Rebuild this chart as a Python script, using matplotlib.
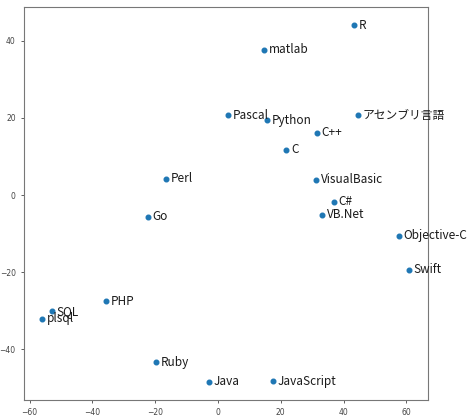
import matplotlib
matplotlib.use('Agg')
import matplotlib.pyplot as plt

plt.rcParams['font.family'] = ['Noto Sans CJK JP', 'DejaVu Sans']

labels = ['R', 'matlab', 'Pascal', 'Python', 'アセンブリ言語', 'C++', 'C', 'Perl',
          'VisualBasic', 'C#', 'VB.Net', 'Go', 'Objective-C', 'Swift', 'PHP',
          'SQL', 'plsql', 'Ruby', 'Java', 'JavaScript']
x_values = [43.3, 14.6, 3.3, 15.6, 44.6, 31.5, 21.7, -16.6,
            31.2, 36.9, 33.1, -22.3, 57.6, 60.8, -35.7,
            -52.9, -56.1, -19.7, -2.9, 17.5]
y_values = [44.0, 37.6, 20.7, 19.3, 20.7, 16.1, 11.7, 4.2,
            3.9, -1.7, -5.1, -5.6, -10.6, -19.4, -27.5,
            -30.1, -32.1, -43.3, -48.4, -48.2]

fig = plt.figure(figsize=(4.74, 4.17), dpi=100)
ax = fig.add_axes([24/474, 17/417, 404/474, 393/417])

ax.scatter(x_values, y_values, s=11, color='#1f77b4', zorder=3)
for i in range(len(labels)):
    ax.annotate(labels[i], (x_values[i], y_values[i]),
                xytext=(3.5, 0), textcoords='offset points',
                va='center', ha='left', fontsize=8.5, color='#1a1a1a')

ax.set_xlim(-61.8, 66.9)
ax.set_ylim(-53.1, 48.7)
ax.set_xticks([-60, -40, -20, 0, 20, 40, 60])
ax.set_yticks([-40, -20, 0, 20, 40])
ax.tick_params(labelsize=5.5, colors='#444444', length=2.5, width=0.6)
for t in ax.get_xticklabels() + ax.get_yticklabels():
    t.set_family('DejaVu Sans')
for spine in ax.spines.values():
    spine.set_color('#777777')
    spine.set_linewidth(0.8)

plt.savefig('out.png', dpi=100)
